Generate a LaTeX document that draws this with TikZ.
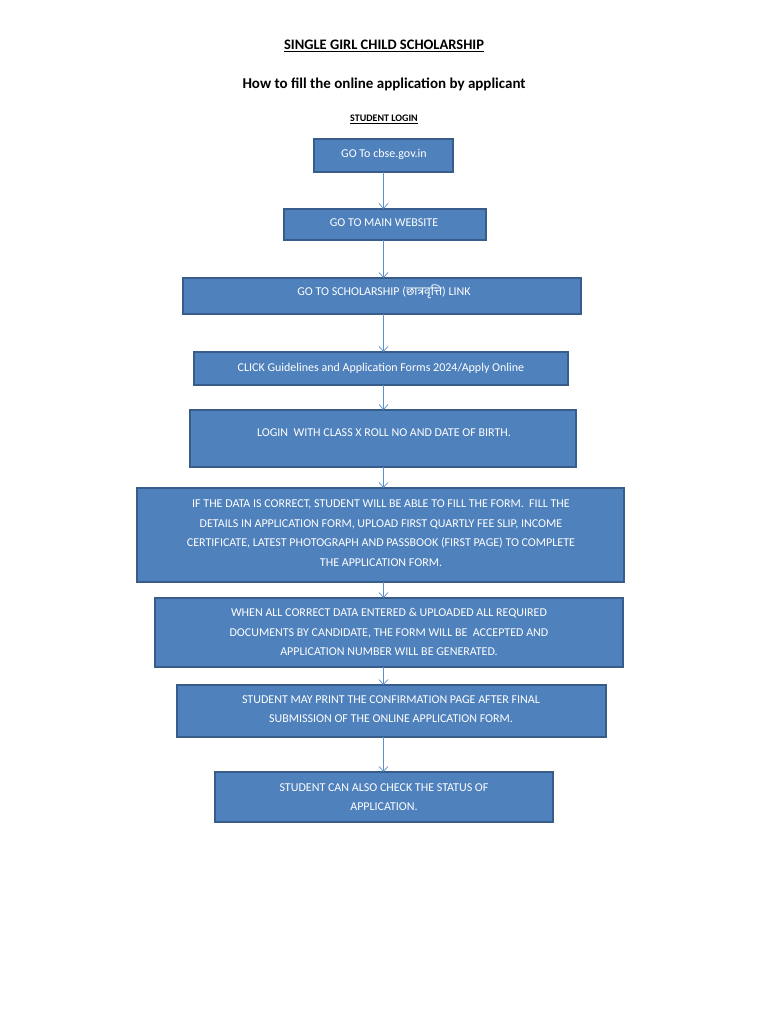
\documentclass[tikz,border=0pt]{standalone}
\usepackage{fontspec}
\setmainfont{Carlito}
\newfontfamily\devfont[Script=Devanagari]{Noto Sans}
\usetikzlibrary{arrows.meta}
\begin{document}
\begin{tikzpicture}[x=1pt,y=-1pt,
  box/.style={draw=boxedge,fill=boxfill,line width=1.8pt},
  txt/.style={text=white,align=center,font=\fontsize{12}{19.6}\selectfont,inner sep=0pt},
  arr/.style={draw=arrowc,line width=0.7pt,-{Straight Barb[length=5pt,width=9pt]}}]
\definecolor{boxfill}{HTML}{4F81BD}
\definecolor{boxedge}{HTML}{385D8A}
\definecolor{arrowc}{HTML}{5B8FCF}
\useasboundingbox (0,0) rectangle (768,1024);
\node[font=\fontsize{14.5}{16}\selectfont\bfseries] (t1) at (384,46) {\underline{SINGLE GIRL CHILD SCHOLARSHIP}};
\node[font=\fontsize{15}{17}\selectfont\bfseries] (t2) at (384,84) {How to fill the online application by applicant};
\node[font=\fontsize{10}{12}\selectfont\bfseries] (t3) at (384,119) {\underline{STUDENT LOGIN}};
\draw[box] (314,139) rectangle (453,172); \coordinate (b1t) at (383.5,172);
\node[txt] (x1) at (384,154) {GO To cbse.gov.in};
\draw[box] (284,209) rectangle (486,240);
\coordinate (b2t) at (383.5,209); \coordinate (b2b) at (383.5,240);
\node[txt] (x2) at (384,223) {GO TO MAIN WEBSITE};
\draw[box] (183,278) rectangle (581,314);
\coordinate (b3t) at (383.5,278); \coordinate (b3b) at (383.5,314);
\node[txt] (x3) at (384,292) {GO TO SCHOLARSHIP ({\devfont छात्रवृत्ति}) LINK};
\draw[box] (194,352) rectangle (568,385);
\coordinate (b4t) at (383.5,352); \coordinate (b4b) at (383.5,385);
\node[txt] (x4) at (381,368) {CLICK Guidelines and Application Forms 2024/Apply Online};
\draw[box] (190,410) rectangle (576,467);
\coordinate (b5t) at (383.5,410); \coordinate (b5b) at (383.5,467);
\node[txt] (x5) at (384,433) {LOGIN\ \ WITH CLASS X ROLL NO AND DATE OF BIRTH.};
\draw[box] (137,488) rectangle (624,582);
\coordinate (b6t) at (383.5,488); \coordinate (b6b) at (383.5,582);
\node[txt] (x6) at (381,533) {IF THE DATA IS CORRECT, STUDENT WILL BE ABLE TO FILL THE FORM.\ \ FILL THE\\DETAILS IN APPLICATION FORM, UPLOAD FIRST QUARTLY FEE SLIP, INCOME\\CERTIFICATE, LATEST PHOTOGRAPH AND PASSBOOK (FIRST PAGE) TO COMPLETE\\THE APPLICATION FORM.};
\draw[box] (155,598) rectangle (623,667);
\coordinate (b7t) at (383.5,598); \coordinate (b7b) at (383.5,667);
\node[txt] (x7) at (389,632) {WHEN ALL CORRECT DATA ENTERED \& UPLOADED ALL REQUIRED\\DOCUMENTS BY CANDIDATE, THE FORM WILL BE\ \ ACCEPTED AND\\APPLICATION NUMBER WILL BE GENERATED.};
\draw[box] (177,685) rectangle (606,737);
\coordinate (b8t) at (383.5,685); \coordinate (b8b) at (383.5,737);
\node[txt] (x8) at (391,709) {STUDENT MAY PRINT THE CONFIRMATION PAGE AFTER FINAL\\SUBMISSION OF THE ONLINE APPLICATION FORM.};
\draw[box] (215,772) rectangle (553,822);
\coordinate (b9t) at (383.5,772);
\node[txt] (x9) at (384,797) {STUDENT CAN ALSO CHECK THE STATUS OF\\APPLICATION.};
\draw[arr] (b1t) -- (b2t);
\draw[arr] (b2b) -- (b3t);
\draw[arr] (b3b) -- (b4t);
\draw[arr] (b4b) -- (b5t);
\draw[arr] (b5b) -- (b6t);
\draw[arr] (b6b) -- (b7t);
\draw[arr] (b7b) -- (b8t);
\draw[arr] (b8b) -- (b9t);
\end{tikzpicture}
\end{document}
